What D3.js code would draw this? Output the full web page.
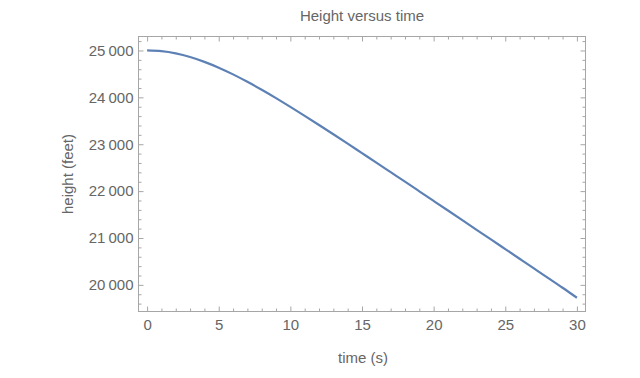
<!DOCTYPE html>
<html>
<head>
<meta charset="utf-8">
<script src="https://cdn.jsdelivr.net/npm/d3@7"></script>
<style>
  html, body { margin: 0; padding: 0; background: #fff; }
  svg { display: block; font-family: "Liberation Sans", Arial, sans-serif; }
</style>
</head>
<body>
<svg id="chart" width="640" height="378"></svg>
<script>
// ---- data ----
const timeS = [0,1,2,3,4,5,6,7,8,9,10,11,12,13,14,15,16,17,18,19,20,21,22,23,24,25,26,27,28,29,30];
const heightFt = [25000,24984,24937,24860,24757,24633,24490,24331,24162,23983,23797,23606,23411,23213,23013,22811,22609,22405,22201,21996,21791,21586,21380,21174,20969,20763,20557,20351,20145,19939,19725];
const xMajorTicks = [0,5,10,15,20,25,30];
const yMajorTicks = [20000,21000,22000,23000,24000,25000];
const yTickLabels = ["20\u2009000","21\u2009000","22\u2009000","23\u2009000","24\u2009000","25\u2009000"];
const titleText = "Height versus time";
const xLabel = "time (s)";
const yLabel = "height (feet)";

// ---- layout ----
const L = 138.5, R = 585.5, T = 36.5, B = 311.5;
const frameColor = "#a6a6a6";
const textColor = "#666666";
const lineColor = "#5e81b5";

const svg = d3.select("#chart");
const x = d3.scaleLinear().domain([-0.6, 30.6]).range([L, R]);
const y = d3.scaleLinear().domain([19432, 25298]).range([B, T]);

const xMinor = d3.range(0, 31, 1).filter(v => v % 5 !== 0);
const yMinor = d3.range(19600, 25201, 200).filter(v => v % 1000 !== 0);

function styleAxis(g) {
  g.select(".domain").remove();
  g.selectAll(".tick line").attr("stroke", frameColor).attr("stroke-width", 1);
  g.selectAll(".tick text").attr("fill", textColor).attr("font-size", 15)
    .attr("font-family", "'Liberation Sans', Arial, sans-serif");
}

// minor ticks (all sides)
svg.append("g").attr("transform", `translate(0,${B})`)
  .call(d3.axisBottom(x).tickValues(xMinor).tickSize(-3).tickFormat("")).call(styleAxis);
svg.append("g").attr("transform", `translate(0,${T})`)
  .call(d3.axisTop(x).tickValues(xMinor).tickSize(-3).tickFormat("")).call(styleAxis);
svg.append("g").attr("transform", `translate(${L},0)`)
  .call(d3.axisLeft(y).tickValues(yMinor).tickSize(-3).tickFormat("")).call(styleAxis);
svg.append("g").attr("transform", `translate(${R},0)`)
  .call(d3.axisRight(y).tickValues(yMinor).tickSize(-3).tickFormat("")).call(styleAxis);

// major ticks
svg.append("g").attr("transform", `translate(0,${B})`)
  .call(d3.axisBottom(x).tickValues(xMajorTicks).tickSize(-5).tickPadding(8).tickFormat(d3.format("d")))
  .call(styleAxis);
svg.append("g").attr("transform", `translate(0,${T})`)
  .call(d3.axisTop(x).tickValues(xMajorTicks).tickSize(-5).tickFormat("")).call(styleAxis);
svg.append("g").attr("transform", `translate(${L},0)`)
  .call(d3.axisLeft(y).tickValues(yMajorTicks).tickSize(-5).tickPadding(5)
    .tickFormat((d, i) => yTickLabels[i]))
  .call(styleAxis);
svg.append("g").attr("transform", `translate(${R},0)`)
  .call(d3.axisRight(y).tickValues(yMajorTicks).tickSize(-5).tickFormat("")).call(styleAxis);

// frame
svg.append("rect").attr("x", L).attr("y", T).attr("width", R - L).attr("height", B - T)
  .attr("fill", "none").attr("stroke", frameColor).attr("stroke-width", 1);

// curve
const line = d3.line().x((d, i) => x(timeS[i])).y(d => y(d)).curve(d3.curveNatural);
svg.append("path").datum(heightFt).attr("d", line)
  .attr("fill", "none").attr("stroke", lineColor).attr("stroke-width", 2.2)
  .attr("stroke-linejoin", "round").attr("stroke-linecap", "butt");

// title and labels
svg.append("text").attr("x", (L + R) / 2).attr("y", 21).attr("text-anchor", "middle")
  .attr("font-size", 15).attr("fill", textColor).text(titleText);
svg.append("text").attr("x", 363).attr("y", 363).attr("text-anchor", "middle")
  .attr("font-size", 15).attr("fill", textColor).text(xLabel);
svg.append("text").attr("transform", `translate(73,${(T + B) / 2}) rotate(-90)`)
  .attr("text-anchor", "middle").attr("font-size", 15).attr("fill", textColor).text(yLabel);
</script>
</body>
</html>
